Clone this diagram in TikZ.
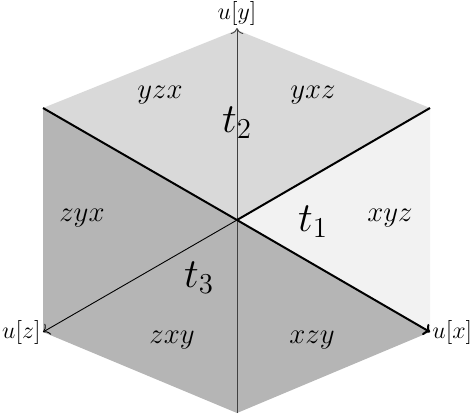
\documentclass[tikz,border=0pt]{standalone}
\usetikzlibrary{arrows.meta}
\begin{document}
\begin{tikzpicture}[x=0.5pt, y=-0.5pt,
    perm/.style={font=\fontsize{13.5}{16}\selectfont},
    tri/.style={font=\huge},
    axlab/.style={font=\large, inner sep=1pt},
    thickln/.style={line width=1pt},
    thinln/.style={line width=0.45pt}]
  \useasboundingbox (0,0) rectangle (474,414);
  % corners of the hexagon
  \coordinate (o)  at (237,220);
  \coordinate (t)  at (237,30);
  \coordinate (b)  at (237,413);
  \coordinate (ul) at (43,108);
  \coordinate (ur) at (430,108);
  \coordinate (ll) at (43,332);
  \coordinate (lr) at (430,332);
  % sectors
  \fill[black!15] (o) -- (ul) -- (t) -- (ur) -- cycle;
  \fill[black!5]  (o) -- (ur) -- (lr) -- cycle;
  \fill[black!29] (o) -- (lr) -- (b) -- (ll) -- (ul) -- cycle;
  % axes and borders
  \draw[thinln, black!75, -{To[length=3pt]}] (b) -- (237,28) coordinate (uy);
  \draw[thickln] (ul) -- (o);
  \draw[thickln] (ur) -- (o);
  \draw[thickln, -{To[length=3pt]}] (o) -- (lr);
  \draw[thinln, -{To[length=3pt]}] (o) -- (ll);
  \node[axlab, anchor=south] (lby) at (uy) {$u[y]$};
  \node[axlab, anchor=west]  (lbx) at (lr) {$u[x]$};
  \node[axlab, anchor=east]  (lbz) at (ll) {$u[z]$};
  % permutations
  \foreach \n/\x/\y/\s in {p1/160/95/yzx, p2/313/95/yxz, p3/82/218/zyx,
                           p4/390/218/xyz, p5/172/340/zxy, p6/312/340/xzy}
    \node[perm] (\n) at (\x,\y) {$\s$};
  \node[tri] (t1) at (313,222) {$t_1$};
  \node[tri] (t2) at (237,123) {$t_2$};
  \node[tri] (t3) at (199,278) {$t_3$};
\end{tikzpicture}
\end{document}
